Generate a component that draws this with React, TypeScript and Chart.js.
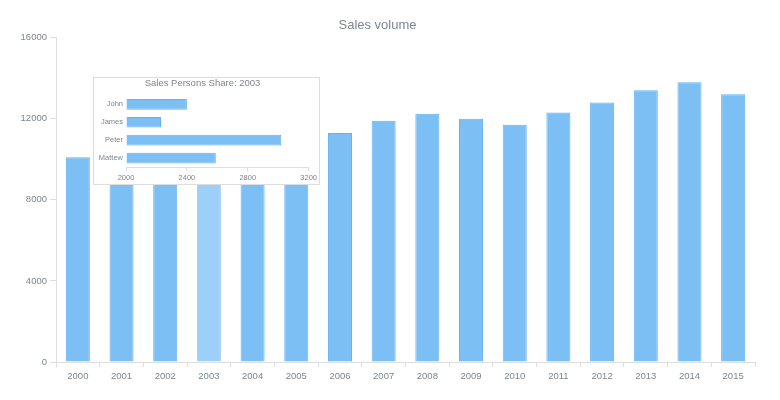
import React, { useEffect, useRef } from "react";
import { Chart, registerables } from "chart.js";

Chart.register(...registerables);

const years = ["2000", "2001", "2002", "2003", "2004", "2005", "2006", "2007", "2008", "2009", "2010", "2011", "2012", "2013", "2014", "2015"];
const sales = [10100, 10500, 9900, 10300, 10800, 11000, 11300, 11900, 12250, 12000, 11700, 12300, 12800, 13400, 13800, 13200];
const selectedYear = "2003";
const persons = ["John", "James", "Peter", "Mattew"];
const shares = [2400, 2230, 3020, 2590];

const FONT = "'Liberation Sans', Arial, sans-serif";
const TEXT = "#7c868e";
const AXIS = "#dedede";
const FILL = "#7bbff5";
const FILL_SEL = "#9dcff8";
const BORDER = "#64b2f2";

export default function App() {
  const mainRef = useRef<HTMLCanvasElement | null>(null);
  const insetRef = useRef<HTMLCanvasElement | null>(null);

  useEffect(() => {
    const main = new Chart(mainRef.current!, {
      type: "bar",
      data: {
        labels: years,
        datasets: [
          {
            data: sales,
            backgroundColor: years.map((y) => (y === selectedYear ? FILL_SEL : FILL)),
            borderColor: years.map((y) => (y === selectedYear ? FILL_SEL : BORDER)),
            borderWidth: 1,
            barPercentage: 0.55,
            categoryPercentage: 1,
          },
        ],
      },
      options: {
        responsive: false,
        animation: false,
        layout: { padding: { top: 0, right: 25, left: 0, bottom: 0 } },
        plugins: {
          legend: { display: false },
          tooltip: { enabled: false },
          title: {
            display: true,
            text: "Sales volume",
            color: TEXT,
            font: { family: FONT, size: 13, weight: "normal" },
            padding: { top: 18, bottom: 4 },
          },
        },
        scales: {
          x: {
            grid: { display: true, drawOnChartArea: false, drawTicks: true, tickLength: 5, color: AXIS },
            border: { color: AXIS },
            ticks: { color: TEXT, font: { family: FONT, size: 9.5 }, padding: 4, maxRotation: 0 },
            afterFit: (s: any) => {
              s.height = 38;
            },
          },
          y: {
            min: 0,
            max: 16000,
            grid: { display: true, drawOnChartArea: false, drawTicks: true, tickLength: 6, color: AXIS },
            border: { color: AXIS },
            ticks: {
              stepSize: 4000,
              color: TEXT,
              font: { family: FONT, size: 9.5 },
              padding: 3,
              callback: (v: any) => String(v),
            },
            afterFit: (s: any) => {
              s.width = 56;
            },
          },
        },
      },
    });

    const inset = new Chart(insetRef.current!, {
      type: "bar",
      data: {
        labels: persons,
        datasets: [
          {
            data: shares,
            base: 2000,
            backgroundColor: FILL,
            borderColor: BORDER,
            borderWidth: 1,
            barPercentage: 0.6,
            categoryPercentage: 1,
          } as any,
        ],
      },
      options: {
        indexAxis: "y",
        responsive: false,
        animation: false,
        layout: { padding: { top: 0, right: 8, left: 0, bottom: 0 } },
        plugins: {
          legend: { display: false },
          tooltip: { enabled: false },
          title: {
            display: true,
            text: "Sales Persons Share: " + selectedYear,
            color: TEXT,
            font: { family: FONT, size: 9.5, weight: "normal" },
            padding: { top: 0, bottom: 6 },
          },
        },
        scales: {
          x: {
            min: 2000,
            max: 3200,
            grid: { display: true, drawOnChartArea: false, drawTicks: true, tickLength: 4, color: AXIS },
            border: { color: AXIS },
            ticks: { stepSize: 400, color: TEXT, font: { family: FONT, size: 7.5 }, padding: 2, callback: (v: any) => String(v) },
            afterFit: (s: any) => {
              s.height = 17;
            },
          },
          y: {
            grid: { display: false, drawTicks: false, tickLength: 0 },
            border: { display: false },
            ticks: { color: TEXT, font: { family: FONT, size: 7.5 }, padding: 3 },
            afterFit: (s: any) => {
              s.width = 32;
            },
          },
        },
      },
    });

    return () => {
      main.destroy();
      inset.destroy();
    };
  }, []);

  return (
    <div style={{ position: "absolute", left: 0, top: 0, width: 780, height: 400, background: "#fff" }}>
      <canvas ref={mainRef} width={780} height={400} style={{ width: 780, height: 400, display: "block" }} />
      <div
        style={{
          position: "absolute",
          left: 93,
          top: 77,
          width: 227,
          height: 108,
          boxSizing: "border-box",
          border: "1px solid #dddddd",
          background: "#fff",
        }}
      >
        <canvas ref={insetRef} width={225} height={106} style={{ width: 225, height: 106, display: "block" }} />
      </div>
    </div>
  );
}
